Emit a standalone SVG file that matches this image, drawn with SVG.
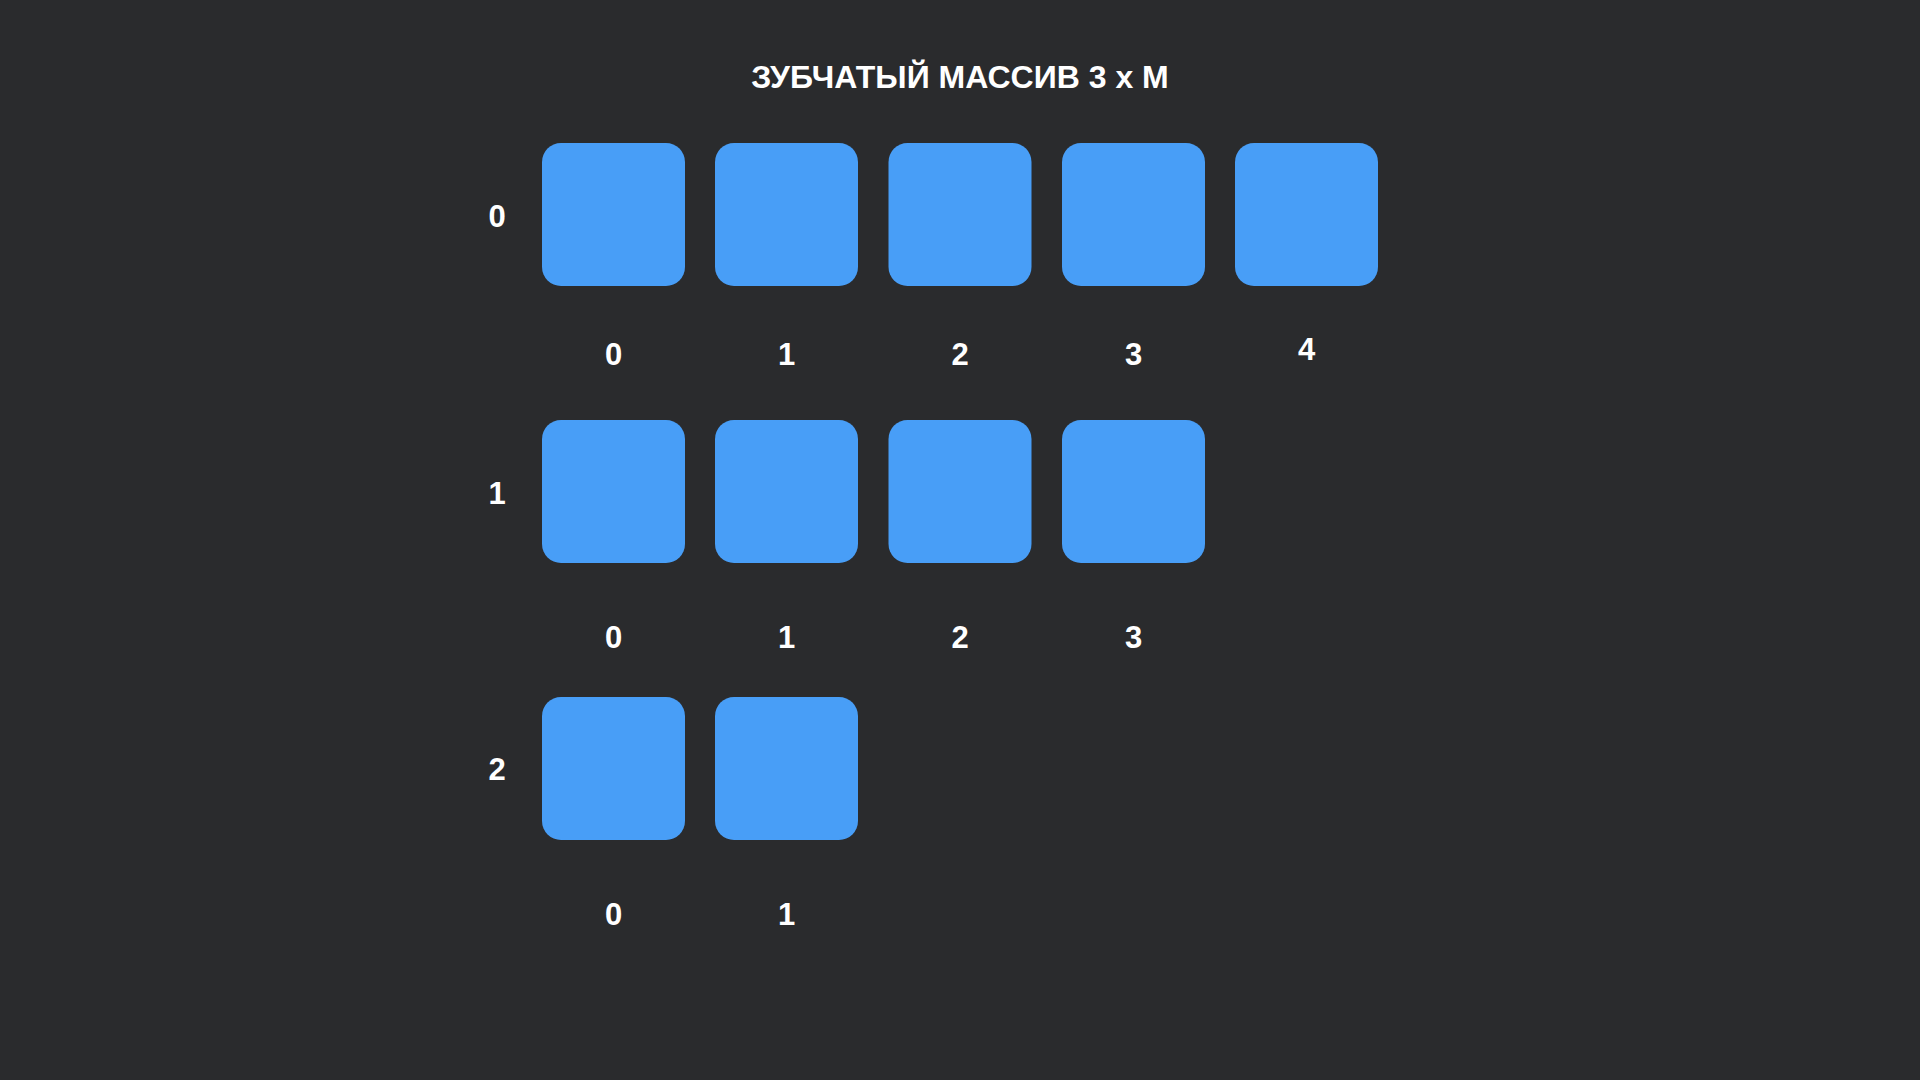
<svg xmlns="http://www.w3.org/2000/svg" width="1920" height="1080" viewBox="0 0 1920 1080">
<style>
.bg{fill:#2a2b2d}
.cell{fill:#489ef7}
.t{fill:#ffffff;font-family:"Liberation Sans",Arial,sans-serif;font-weight:bold}
.title{font-size:32px}
.num{font-size:31px;text-anchor:middle}
</style>
<rect class="bg" x="0" y="0" width="1920" height="1080"/>
<text id="title" class="t title" x="960" y="88" text-anchor="middle">ЗУБЧАТЫЙ МАССИВ 3 x M</text>
<g id="row0">
<text class="t num" x="497" y="227">0</text>
<g id="r0c0"><rect class="cell" x="542" y="143" width="143" height="143" rx="19"/><text class="t num" x="613.5" y="365">0</text></g>
<g id="r0c1"><rect class="cell" x="715" y="143" width="143" height="143" rx="19"/><text class="t num" x="786.5" y="365">1</text></g>
<g id="r0c2"><rect class="cell" x="888.5" y="143" width="143" height="143" rx="19"/><text class="t num" x="960" y="365">2</text></g>
<g id="r0c3"><rect class="cell" x="1062" y="143" width="143" height="143" rx="19"/><text class="t num" x="1133.5" y="365">3</text></g>
<g id="r0c4"><rect class="cell" x="1235" y="143" width="143" height="143" rx="19"/><text class="t num" x="1306.5" y="360">4</text></g>
</g>
<g id="row1">
<text class="t num" x="497" y="504">1</text>
<g id="r1c0"><rect class="cell" x="542" y="420" width="143" height="143" rx="19"/><text class="t num" x="613.5" y="648">0</text></g>
<g id="r1c1"><rect class="cell" x="715" y="420" width="143" height="143" rx="19"/><text class="t num" x="786.5" y="648">1</text></g>
<g id="r1c2"><rect class="cell" x="888.5" y="420" width="143" height="143" rx="19"/><text class="t num" x="960" y="648">2</text></g>
<g id="r1c3"><rect class="cell" x="1062" y="420" width="143" height="143" rx="19"/><text class="t num" x="1133.5" y="648">3</text></g>
</g>
<g id="row2">
<text class="t num" x="497" y="780">2</text>
<g id="r2c0"><rect class="cell" x="542" y="697" width="143" height="143" rx="19"/><text class="t num" x="613.5" y="925">0</text></g>
<g id="r2c1"><rect class="cell" x="715" y="697" width="143" height="143" rx="19"/><text class="t num" x="786.5" y="925">1</text></g>
</g>
<g id="connectors"/>
</svg>
